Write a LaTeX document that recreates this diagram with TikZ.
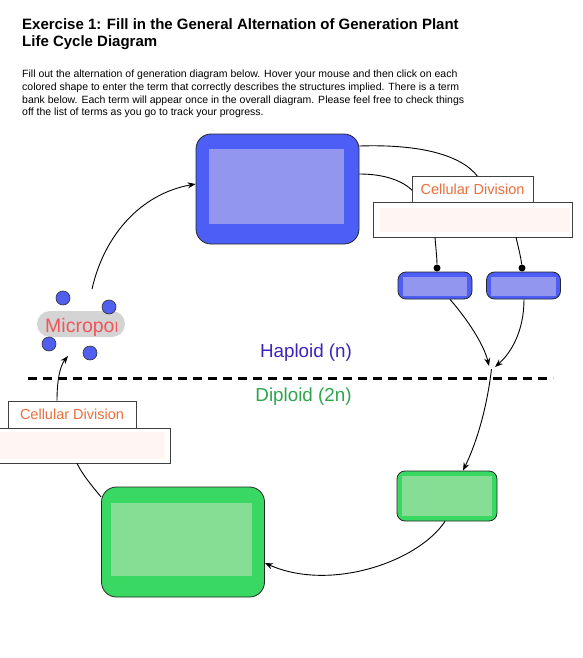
\documentclass[tikz,border=0pt]{standalone}
\usepackage{fontspec}
\setmainfont{Liberation Sans}
\usetikzlibrary{arrows.meta}
\definecolor{bluebox}{RGB}{76,94,245}
\definecolor{blueinner}{RGB}{146,150,238}
\definecolor{greenbox}{RGB}{56,216,98}
\definecolor{greeninner}{RGB}{134,222,148}
\definecolor{pinkfill}{RGB}{255,245,242}
\definecolor{orangetext}{RGB}{235,110,60}
\definecolor{haplo}{RGB}{60,35,190}
\definecolor{diplo}{RGB}{45,165,75}
\definecolor{microtext}{RGB}{240,85,90}
\definecolor{graylab}{RGB}{212,212,212}
\definecolor{dotblue}{RGB}{80,95,240}
\begin{document}
\begin{tikzpicture}[x=1pt,y=-1pt,
  titlefont/.style={font=\fontsize{15}{17}\selectfont\bfseries, anchor=base west, inner sep=0pt},
  parafont/.style={font=\fontsize{10.5}{12}\selectfont, anchor=base west, inner sep=0pt},
  bigbox/.style={draw=black!85, line width=0.8pt, rounded corners=15pt, minimum width=163pt, minimum height=110pt, inner sep=0pt},
  smallbox/.style={draw=black!85, line width=0.8pt, rounded corners=8pt, minimum width=74pt, minimum height=27pt, inner sep=0pt},
  labelbox/.style={draw=black!75, line width=0.6pt, fill=white, minimum width=121pt, minimum height=26pt, inner sep=0pt, text=orangetext, font=\fontsize{14.5}{16}\selectfont},
  answerbox/.style={draw=black!75, line width=0.6pt, fill=white, minimum width=199pt, minimum height=35pt, inner sep=0pt},
  conn/.style={line width=0.9pt},
  arr/.style={line width=0.9pt, -{Stealth[length=8pt,width=6pt]}},
  spore/.style={circle, draw=black!80, line width=0.6pt, fill=dotblue, minimum size=14pt, inner sep=0pt},
  joint/.style={circle, fill=black, minimum size=7pt, inner sep=0pt},
  phase/.style={font=\fontsize{18.8}{21}\selectfont}
]
\useasboundingbox (0,0) rectangle (583,658);

% title and paragraph
\node[titlefont] (t1) at (22,30) {Exercise 1: Fill in the General Alternation of Generation Plant};
\node[titlefont] (t2) at (22,47) {Life Cycle Diagram};
\node[parafont] (p1) at (22,78) {Fill out the alternation of generation diagram below. Hover your mouse and then click on each};
\node[parafont] (p2) at (22,90.5) {colored shape to enter the term that correctly describes the structures implied. There is a term};
\node[parafont] (p3) at (22,103) {bank below. Each term will appear once in the overall diagram. Please feel free to check things};
\node[parafont] (p4) at (22,115.5) {off the list of terms as you go to track your progress.};

% big blue box
\node[bigbox, fill=bluebox] (blue) at (277.5,189) {};
\fill[blueinner] (209,149) rectangle (344,224);

% connectors from the blue box (drawn before the label so it covers their ends)
\coordinate (c1end) at (478,177);
\coordinate (c2end) at (413,191);
\draw[conn] (blue.east |- 0,146) .. controls (420,144) and (462,155) .. (c1end);
\draw[conn] (blue.east |- 0,174) .. controls (385,174) and (403,181) .. (c2end);

% right cellular division
\node[answerbox] (ans1) at (472.5,219.5) {};
\fill[pinkfill] (380,208) rectangle (570,232);
\node[labelbox] (lab1) at (472.5,189) {Cellular Division};

% small blue boxes
\node[smallbox, fill=bluebox] (sbl) at (435,285.5) {};
\fill[blueinner] (403,277) rectangle (467,296);
\node[smallbox, fill=bluebox] (sbr) at (523.5,285.5) {};
\fill[blueinner] (491,277) rectangle (556,296);

\node[joint] (jl) at (437,268) {};
\node[joint] (jr) at (522,268) {};
\coordinate (meet) at (491.5,369);

% green boxes
\node[smallbox, fill=greenbox, minimum width=100pt, minimum height=50pt] (sg) at (447,496) {};
\fill[greeninner] (402,476) rectangle (492,516);
\node[bigbox, fill=greenbox] (bg) at (183,542) {};
\fill[greeninner] (111,503) rectangle (252,576);

% left cellular division
\node[answerbox] (ans2) at (70.5,445.5) {};
\fill[pinkfill] (-25,432) rectangle (165,459);
\node[labelbox, minimum width=128pt, minimum height=27pt] (lab2) at (72,414.5) {Cellular Division};

% microspores
\node[fill=graylab, rounded corners=13pt, minimum width=88pt, minimum height=26pt, inner sep=0pt] (mlab) at (81,324) {};
\begin{scope}
\clip (40,311) rectangle (116.5,337);
\node[text=microtext, font=\fontsize{19.5}{21}\selectfont, anchor=base west, inner sep=0pt] (mtext) at (45,332) {Micropor};
\end{scope}
\node[spore] (s1) at (63,298) {};
\node[spore] (s2) at (109,307) {};
\node[spore] (s3) at (49,344) {};
\node[spore] (s4) at (90,353) {};

% haploid / diploid
\draw[line width=3pt, dash pattern=on 9pt off 6pt] (28,378) -- (553,378);
\node[phase, text=haplo] (hap) at (306,353) {Haploid (n)};
\node[phase, text=diplo] (dip) at (303.5,397) {Diploid (2n)};

% connectors
\draw[conn] (ans1.south -| 435,0) .. controls (436,250) and (437,258) .. (jl);
\draw[conn] (ans1.south -| 516,0) .. controls (519,250) and (521,258) .. (jr);
\draw[arr] (sbl.south -| 450,0) .. controls (468,320) and (484,345) .. (489,366);
\draw[arr] (sbr.south -| 524,0) .. controls (524,330) and (512,352) .. (495,367);
\draw[arr] (meet) .. controls (486,415) and (474,448) .. (sg.north -| 463,0);
\draw[arr] (sg.south -| 445,0) .. controls (418,562) and (330,592) .. (bg.east |- 0,563);
\draw[conn] (bg.north west |- 0,497) .. controls (92,486) and (82,474) .. (ans2.south -| 77,0);
\draw[arr] (lab2.north -| 57,0) .. controls (57,380) and (60,366) .. (68,356);
\draw[arr] (92,289) .. controls (104,236) and (140,194) .. (blue.west |- 0,184);
\end{tikzpicture}
\end{document}
